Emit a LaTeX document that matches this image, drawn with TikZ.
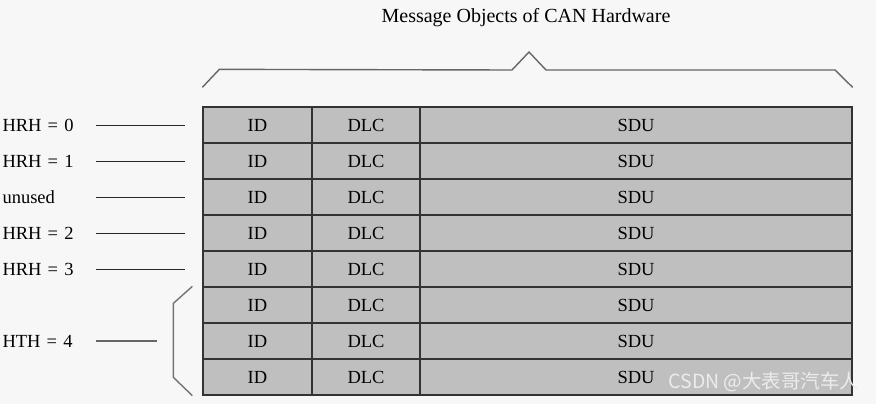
\documentclass[tikz,border=0pt]{standalone}
\usepackage{fontspec}
\setmainfont{Liberation Serif}
\newfontfamily\cjkfont{Noto Sans CJK SC}
\usetikzlibrary{calc}
\tikzset{
	every path/.style={line width=1pt},
	cell/.style={
		draw=black!80,
		line width=1.3pt,
		fill=black!25,
		rectangle,
		minimum height=36pt,
		inner sep=0pt,
		font=\fontsize{18.5}{20}\selectfont,
	},
	idcell/.style={cell, minimum width=109pt},
	dlccell/.style={cell, minimum width=108pt},
	sducell/.style={cell, minimum width=432pt},
	handle/.style={
		anchor=west,
		inner sep=0pt,
		text width=73pt,
		align=left,
		font=\fontsize{18.5}{20}\selectfont,
	},
	tie/.style={draw=black!85, line width=0.9pt},
	brace/.style={draw=black!55, line width=1.4pt, line join=miter},
}

\begin{document}
\begin{tikzpicture}[x=1pt,y=-1pt]
	\useasboundingbox (0,0) rectangle (876,404);
	\fill[black!3] (0,0) rectangle (876,404);

	\node[font=\fontsize{20}{22}\selectfont] (title) at (526,18) {Message Objects of CAN Hardware};

	% message objects
	\foreach \r in {0,...,7} {
		\node[idcell] (id\r) at (257.5,{125+36*\r}) {ID};
		\node[dlccell] (dlc\r) at (366,{125+36*\r}) {DLC};
		\node[sducell] (sdu\r) at (636,{125+36*\r}) {SDU};
	}

	\node[handle] (hrh0) at (2,125) {HRH = 0};
	\node[handle] (hrh1) at (2,161) {HRH = 1};
	\node[handle] (unused) at (2,197) {unused};
	\node[handle] (hrh2) at (2,233) {HRH = 2};
	\node[handle] (hrh3) at (2,269) {HRH = 3};
	\node[handle] (hth) at (2,341) {HTH = 4};

	\draw[tie] ([xshift=20pt]hrh0.east) -- ([xshift=-17pt]id0.west);
	\draw[tie] ([xshift=20pt]hrh1.east) -- ([xshift=-17pt]id1.west);
	\draw[tie] ([xshift=20pt]unused.east) -- ([xshift=-17pt]id2.west);
	\draw[tie] ([xshift=20pt]hrh2.east) -- ([xshift=-17pt]id3.west);
	\draw[tie] ([xshift=20pt]hrh3.east) -- ([xshift=-17pt]id4.west);

	\coordinate (hthend) at (157,341);
	\draw[tie, draw=black!60, line width=1.2pt] ([xshift=20pt]hth.east) -- (hthend);

	% group of the transmit objects
	\draw[brace] ([xshift=-10pt]id5.north west) -- ++(-19,17) -- ++(0,74) -- ([xshift=-10pt]id7.south west);

	% whole hardware
	\coordinate (peak) at (529,52);
	\draw[brace, draw=black!60] ([yshift=19pt]id0.north west) -- ++(17,-18) -- ($(peak)+(-17,18)$) -- (peak)
		-- ($(peak)+(17,18)$) -- (835,70) -- ([yshift=19pt]sdu0.north east);

	\node[font=\cjkfont\fontsize{19.5}{22}\selectfont, text=white!85!gray, anchor=west, inner sep=0pt] (mark) at (668,382) {CSDN @大表哥汽车人};

\end{tikzpicture}
\end{document}
